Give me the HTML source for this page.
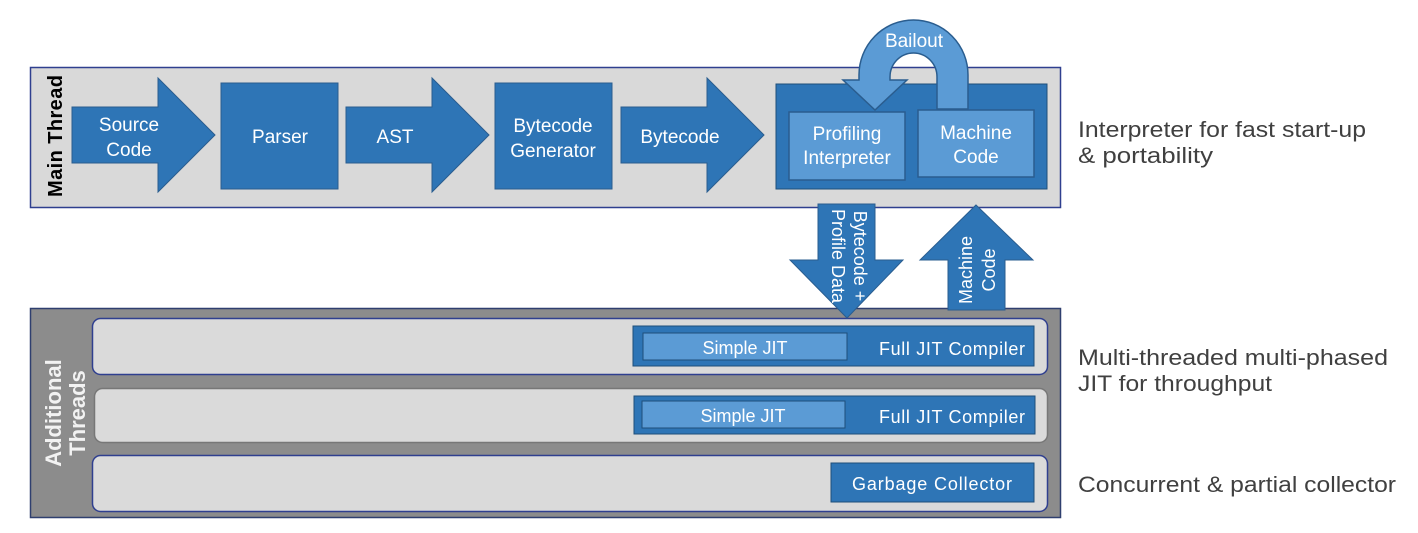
<!DOCTYPE html>
<html><head><meta charset="utf-8"><style>
html,body{margin:0;padding:0;background:#fff;width:1418px;height:533px;overflow:hidden}
svg text{font-family:"Liberation Sans",sans-serif}
</style></head><body>
<svg width="1418" height="533" viewBox="0 0 1418 533" xmlns="http://www.w3.org/2000/svg">
<!-- main thread -->
<rect x="30.5" y="67.5" width="1030" height="140" fill="#d9d9d9" stroke="#2f3f8f" stroke-width="1.5"/>
<text transform="translate(62,136) rotate(-90)" text-anchor="middle" font-size="20" font-weight="bold" fill="#000" textLength="122">Main Thread</text>
<g fill="#2e75b6" stroke="#2a5d8f" stroke-width="1">
<polygon points="72,107 158,107 158,78 215,135 158,192 158,163 72,163"/>
<rect x="221" y="83" width="117" height="106"/>
<polygon points="346,107 432,107 432,78 489,135 432,192 432,163 346,163"/>
<rect x="495" y="83" width="117" height="106"/>
<polygon points="621,107 707,107 707,78 764,135 707,192 707,163 621,163"/>
<rect x="776" y="84" width="271" height="105" stroke="#1f4e79"/>
</g>
<g fill="#5b9bd5" stroke="#2a5d8f" stroke-width="1.5">
<rect x="789" y="112" width="116" height="68"/>
<rect x="918" y="110" width="116" height="67"/>
<!-- bailout -->
<path d="M937,109 L937,77 A23.5,24 0 0 0 890,77 L890,80 L907,80 L875,110 L843,80 L859,80 L859,75 A54.5,55 0 0 1 968,75 L968,109 Z"/>
</g>
<g fill="#fff" font-size="19" text-anchor="middle">
<text x="129" y="131">Source</text><text x="129" y="156">Code</text>
<text x="280" y="143">Parser</text>
<text x="395" y="143">AST</text>
<text x="553" y="132">Bytecode</text><text x="553" y="157">Generator</text>
<text x="680" y="143">Bytecode</text>
<text x="847" y="140">Profiling</text><text x="847" y="164">Interpreter</text>
<text x="976" y="139">Machine</text><text x="976" y="163">Code</text>
<text x="914" y="47">Bailout</text>
</g>
<!-- additional threads -->
<rect x="30.5" y="308.5" width="1030" height="209" fill="#8c8c8c" stroke="#2f3f6f" stroke-width="1.5"/>
<text transform="translate(61,413) rotate(-90)" text-anchor="middle" font-size="22" font-weight="bold" fill="#f2f2f2">Additional</text>
<text transform="translate(85,413) rotate(-90)" text-anchor="middle" font-size="22" font-weight="bold" fill="#f2f2f2">Threads</text>
<rect x="92.5" y="318.5" width="955" height="56" rx="8" fill="#dadada" stroke="#2f3f8f" stroke-width="1.5"/>
<rect x="94.5" y="388.5" width="953" height="54" rx="8" fill="#dadada" stroke="#777" stroke-width="1.5"/>
<rect x="92.5" y="455.5" width="955" height="56" rx="8" fill="#dadada" stroke="#2f3f8f" stroke-width="1.5"/>
<g stroke="#1f4e79" stroke-width="1">
<rect x="633" y="326" width="401" height="40" fill="#2e75b6"/>
<rect x="643" y="333" width="204" height="27" fill="#5b9bd5"/>
<rect x="634" y="396" width="401" height="38" fill="#2e75b6"/>
<rect x="642" y="401" width="203" height="27" fill="#5b9bd5"/>
<rect x="831" y="463" width="203" height="39" fill="#2e75b6"/>
</g>
<g fill="#fff" font-size="18" text-anchor="middle">
<text x="745" y="354">Simple JIT</text><text x="952" y="355" textLength="146">Full JIT Compiler</text>
<text x="743" y="422">Simple JIT</text><text x="952" y="423" textLength="146">Full JIT Compiler</text>
<text x="932" y="490" textLength="160">Garbage Collector</text>
</g>
<!-- vertical arrows -->
<g fill="#2e75b6" stroke="#2a5d8f" stroke-width="1">
<polygon points="818,204 875,204 875,260 903,260 847,318 790,260 818,260"/>
<polygon points="976,205 1033,260 1005,260 1005,310 948,310 948,260 920,260"/>
</g>
<g fill="#fff" font-size="18" text-anchor="middle">
<text transform="translate(854,256) rotate(90)">Bytecode +</text>
<text transform="translate(832,256) rotate(90)">Profile Data</text>
<text transform="translate(972,270) rotate(-90)">Machine</text>
<text transform="translate(995,270) rotate(-90)">Code</text>
</g>
<g fill="#404040" font-size="22">
<text x="1078" y="137" textLength="288" lengthAdjust="spacingAndGlyphs">Interpreter for fast start-up</text>
<text x="1078" y="163" textLength="135" lengthAdjust="spacingAndGlyphs">&amp; portability</text>
<text x="1078" y="365" textLength="310" lengthAdjust="spacingAndGlyphs">Multi-threaded multi-phased</text>
<text x="1078" y="391" textLength="194" lengthAdjust="spacingAndGlyphs">JIT for throughput</text>
<text x="1078" y="492" textLength="318" lengthAdjust="spacingAndGlyphs">Concurrent &amp; partial collector</text>
</g>
</svg>
</body></html>
